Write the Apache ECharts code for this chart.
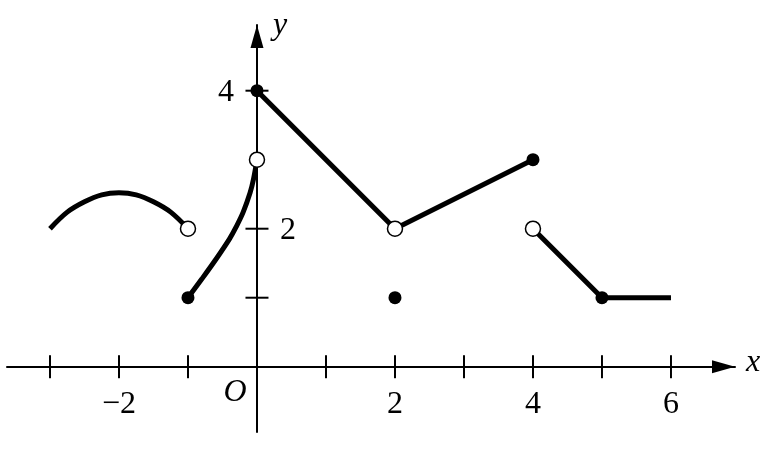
<!DOCTYPE html>
<html>
<head>
<meta charset="utf-8">
<script src="https://cdn.jsdelivr.net/npm/echarts@6/dist/echarts.min.js"></script>
<style>
html,body{margin:0;padding:0;background:#fff;}
#chart{width:768px;height:468px;}
</style>
</head>
<body>
<div id="chart"></div>
<script>
// ---- data ----
const xTickValues = [-3, -2, -1, 1, 2, 3, 4, 5, 6];
const yTickValues = [1, 2, 4];
const xLabelValues = [-2, 2, 4, 6];
const xLabelTexts = ['\u22122', '2', '4', '6'];
const yLabelValues = [4, 2];
const yLabelTexts = ['4', '2'];
const yLabelSides = ['left', 'right'];

const arcLeftX = [-3, -2.75, -2.5, -2.25, -2, -1.75, -1.5, -1.25, -1];
const arcLeftY = [2, 2.24, 2.39, 2.49, 2.52, 2.49, 2.39, 2.24, 2];

const curveX = [-1, -0.8, -0.6, -0.4, -0.3, -0.2, -0.1, -0.05, 0];
const curveY = [1, 1.27, 1.55, 1.85, 2.03, 2.24, 2.52, 2.72, 3];

const segAX = [0, 2];
const segAY = [4, 2];
const segBX = [2, 4];
const segBY = [2, 3];
const segCX = [4, 5, 6];
const segCY = [2, 1, 1];

const filledX = [-1, 0, 2, 4, 5];
const filledY = [1, 4, 1, 3, 1];
const openX = [-1, 0, 2, 4];
const openY = [2, 3, 2, 2];

const xRange = [-3.623, 6.928];
const yRange = [-0.946, 4.952];

// ---- helpers ----
const zip = (xs, ys) => xs.map((x, i) => [x, ys[i]]);
const FONT = "'Liberation Serif', 'Times New Roman', Times, serif";
const BLACK = '#000';

function lineSeries(xs, ys, smooth) {
  return {
    type: 'line', data: zip(xs, ys), smooth: smooth ? 0.35 : false,
    showSymbol: false, silent: true, z: 3,
    lineStyle: { color: BLACK, width: 5, cap: 'butt', join: 'round', opacity: 1 }
  };
}

const labelData = [];
xLabelValues.forEach((v, i) => {
  labelData.push({ value: [v, 0], name: xLabelTexts[i], label: { offset: [0, 38] } });
});
yLabelValues.forEach((v, i) => {
  labelData.push({ value: [0, v], name: yLabelTexts[i],
    label: { offset: [yLabelSides[i] === 'left' ? -31 : 31, 2] } });
});
labelData.push({ value: [0, 0], name: 'O', label: { offset: [-22, 26], fontStyle: 'italic' } });
labelData.push({ value: [xRange[1], 0], name: 'x', label: { offset: [18, -4], fontStyle: 'italic' } });
labelData.push({ value: [0, yRange[1]], name: 'y', label: { offset: [23, 1], fontStyle: 'italic' } });

const axisCommon = {
  type: 'value',
  axisLine: {
    show: true, onZero: true,
    lineStyle: { color: BLACK, width: 2 },
    symbol: ['none', 'triangle'], symbolSize: [13, 23], symbolOffset: [0, -11.5]
  },
  axisTick: { show: false },
  axisLabel: { show: false },
  splitLine: { show: false }
};

const option = {
  backgroundColor: '#fff',
  animation: false,
  grid: { left: 7, top: 25, width: 728, height: 407, containLabel: false, outerBoundsMode: 'none' },
  xAxis: Object.assign({}, axisCommon, { min: xRange[0], max: xRange[1] }),
  yAxis: Object.assign({}, axisCommon, { min: yRange[0], max: yRange[1] }),
  series: [
    { type: 'scatter', silent: true, z: 2, data: xTickValues.map(v => [v, 0]),
      symbol: 'rect', symbolSize: [2, 23], itemStyle: { color: BLACK, opacity: 1 } },
    { type: 'scatter', silent: true, z: 2, data: yTickValues.map(v => [0, v]),
      symbol: 'rect', symbolSize: [23, 2], itemStyle: { color: BLACK, opacity: 1 } },
    lineSeries(arcLeftX, arcLeftY, true),
    lineSeries(curveX, curveY, true),
    lineSeries(segAX, segAY, false),
    lineSeries(segBX, segBY, false),
    lineSeries(segCX, segCY, false),
    { type: 'scatter', silent: true, z: 5, data: zip(filledX, filledY),
      symbol: 'circle', symbolSize: 13, itemStyle: { color: BLACK, opacity: 1 } },
    { type: 'scatter', silent: true, z: 6, data: zip(openX, openY),
      symbol: 'circle', symbolSize: 15,
      itemStyle: { color: '#fff', borderColor: BLACK, borderWidth: 1.5, opacity: 1 } },
    { type: 'scatter', silent: true, z: 7, data: labelData, symbolSize: 0,
      itemStyle: { color: 'rgba(0,0,0,0)', opacity: 1 },
      label: { show: true, position: 'inside', formatter: p => p.name,
        fontFamily: FONT, fontSize: 32, color: BLACK, opacity: 1 } }
  ]
};

const chart = echarts.init(document.getElementById('chart'), null, { renderer: 'canvas' });
chart.setOption(option);
</script>
</body>
</html>
